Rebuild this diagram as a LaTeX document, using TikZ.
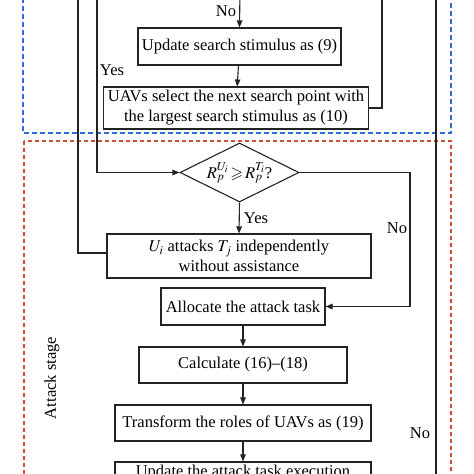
\documentclass[tikz,border=0pt]{standalone}
\usepackage{mathptmx}
\usepackage{amssymb}
\usepackage{fontspec}
\setmainfont{Liberation Serif}
\usetikzlibrary{shapes.geometric,arrows.meta}
\definecolor{blueD}{RGB}{45,110,220}
\definecolor{redD}{RGB}{205,80,50}
\definecolor{lineC}{RGB}{35,35,35}
\tikzset{
  box/.style={draw=lineC, line width=1.1pt, rectangle, inner sep=0pt, align=center, font=\fontsize{16.5}{20}\selectfont},
  lbl/.style={font=\fontsize{16.5}{19}\selectfont, inner sep=0pt},
  conn/.style={draw=lineC, line width=1.1pt},
  arr/.style={conn, -{Triangle[length=7pt,width=5.5pt]}},
  blueBox/.style={draw=blueD, line width=1.2pt, dash pattern=on 5pt off 3pt},
  redBox/.style={draw=redD, line width=1.2pt, dash pattern=on 4pt off 3pt}
}
\begin{document}
\begin{tikzpicture}[x=1pt,y=-1pt]
\useasboundingbox (0,0) rectangle (474,474);
\clip (0,0) rectangle (474,474);
\fill[white] (0,0) rectangle (474,474);
% stage frames
\draw[blueBox] (23,-10) rectangle (451,133);
\draw[redBox] (24,141) rectangle (451,495);
% free ends at the top
\coordinate (tNo) at (240,-10);
\coordinate (tA) at (78,-10);
\coordinate (tB) at (97,-10);
\coordinate (tC) at (382,-10);
\coordinate (tD) at (436,-10);
\coordinate (bD) at (436,490);
% nodes
\node[box, minimum width=203pt, minimum height=37pt] (upd) at (239.5,46.5) {Update search stimulus as (9)};
\node[box, minimum width=265pt, minimum height=42pt] (sel) at (236,108) {UAVs select the next search point with\\the largest search stimulus as (10)};
\node[draw=lineC, line width=1.1pt, diamond, minimum width=119pt, minimum height=59pt, inner sep=0pt] (dia) at (239.5,172.5) {};
\node[lbl] (diat) at (dia.center) {$R_p^{U_i}\!\geqslant\! R_p^{T_i}$?};
\node[box, minimum width=264pt, minimum height=44pt] (ui) at (239,256) {$U_i$ attacks $T_j$ independently\\without assistance};
\node[box, minimum width=164pt, minimum height=37pt] (alloc) at (243,306.5) {Allocate the attack task};
\node[box, minimum width=208pt, minimum height=36pt] (calc) at (243,365) {Calculate (16)\textendash(18)};
\node[box, minimum width=256pt, minimum height=36pt] (trans) at (243,423) {Transform the roles of UAVs as (19)};
\node[box, minimum width=256pt, minimum height=44pt] (updat) at (243,484) {Update the attack task execution\\\strut};
% labels
\node[lbl] (n1) at (226,11) {No};
\node[lbl] (y1) at (112,70) {Yes};
\node[lbl] (y2) at (256,218) {Yes};
\node[lbl] (n2) at (397,228) {No};
\node[lbl] (n3) at (420,433) {No};
\node[lbl, rotate=90] (stage) at (52,378) {Attack stage};
% connectors
\draw[arr] (tNo) -- (upd.north);
\draw[arr] (upd) -- (sel);
\draw[conn] (sel.east) -- (382,108) -- (tC);
\draw[arr] (tB) |- (dia.west);
\draw[conn] (ui.west |- 0,253) -- (78,253) -- (tA);
\draw[arr] (dia.east) -- (410,172.5) |- (alloc.east);
\draw[arr] (dia.south) -- (ui.north);
\draw[arr] (alloc) -- (calc);
\draw[arr] (calc) -- (trans);
\draw[arr] (trans) -- (updat);
\draw[conn] (tD) -- (bD);
\end{tikzpicture}
\end{document}
